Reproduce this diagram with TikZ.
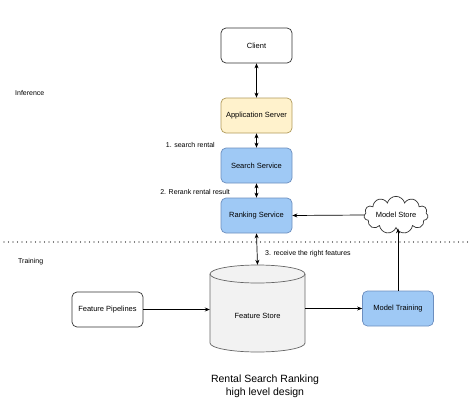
\documentclass[tikz,border=0pt]{standalone}
\usepackage{fontspec}
\setmainfont{Liberation Sans}
\usetikzlibrary{arrows.meta,shapes.symbols}
\definecolor{ylwfill}{HTML}{FFF2CC}
\definecolor{ylwdraw}{HTML}{B09A5A}
\definecolor{bluefill}{HTML}{9FC9F5}
\definecolor{bluedraw}{HTML}{6C8EBF}
\definecolor{cylfill}{HTML}{F2F2F2}
\definecolor{cyldraw}{HTML}{666666}
\definecolor{boxdraw}{HTML}{333333}
\begin{document}
\begin{tikzpicture}[x=1pt,y=-1pt,
  box/.style={draw=boxdraw,line width=0.7pt,rounded corners=5pt,minimum width=71pt,minimum height=35pt,inner sep=0pt,font=\fontsize{7.5}{9}\selectfont},
  ybox/.style={box,fill=ylwfill,draw=ylwdraw},
  bbox/.style={box,fill=bluefill,draw=bluedraw},
  lbl/.style={font=\fontsize{7}{8.5}\selectfont,inner sep=0pt},
  conn/.style={line width=0.7pt,-{Stealth[length=5pt,width=4pt]}},
  bconn/.style={line width=0.7pt,{Stealth[length=5pt,width=4pt]}-{Stealth[length=5pt,width=4pt]}}
]
\useasboundingbox (0,0) rectangle (474,412);
\node[box] (client) at (256.5,45.5) {Client};
\node[ybox] (app) at (256.5,115.5) {Application Server};
\node[bbox] (search) at (256.5,165.5) {Search Service};
\node[bbox] (rank) at (256.5,215.5) {Ranking Service};
\node[cloud,draw=boxdraw,fill=white,line width=0.7pt,cloud puffs=11,aspect=2.2,minimum width=64pt,minimum height=33pt,inner sep=0pt,font=\fontsize{7.5}{9}\selectfont] (mstore) at (396,215) {Model Store};
\node[box] (pipe) at (107.5,309.5) {Feature Pipelines};
\node[bbox] (train) at (398,308.5) {Model Training};
% cylinder
\node[minimum width=95pt,minimum height=87pt,inner sep=0pt] (fs) at (257.5,308.5) {};
\draw[draw=cyldraw,fill=cylfill,line width=0.7pt] (210,274) -- (210,343) arc[start angle=180,end angle=360,x radius=47.5pt,y radius=9pt] -- (305,274) arc[start angle=0,end angle=180,x radius=47.5pt,y radius=9pt] -- cycle;
\draw[draw=cyldraw,line width=0.7pt] (210,274) arc[start angle=180,end angle=360,x radius=47.5pt,y radius=9pt];
\node[font=\fontsize{7.5}{9}\selectfont,inner sep=0pt] (fslabel) at (257.5,316) {Feature Store};
% dotted separator
\coordinate (sepL) at (4,242);
\coordinate (sepR) at (472,242);
\draw[line width=1.1pt,line cap=round,dash pattern=on 0pt off 4.5pt] (sepL) -- (sepR);
% connectors
\draw[bconn] (client.south) -- (app.north);
\draw[bconn] (app.south) -- (search.north);
\draw[bconn] (search.south) -- (rank.north);
\draw[bconn] (rank.south) -- (fs.north);
\draw[conn] (mstore.west) -- (rank.east);
\draw[conn] (train.north) -- (train.north |- mstore.south);
\draw[conn] (pipe.east) -- (fs.west |- pipe.east);
\draw[conn] (fs.east |- train.west) -- (train.west);
% labels
\node[lbl,anchor=east] (l1) at (215,145) {1. search rental};
\node[lbl,anchor=east] (l2) at (230,192) {2. Rerank rental result};
\node[lbl,anchor=west] (l3) at (265,254) {3. receive the right features};
\node[lbl,anchor=west] (inf) at (15,93) {Inference};
\node[lbl,anchor=west] (trn) at (18,262) {Training};
\node[font=\fontsize{10.5}{13}\selectfont,align=center,inner sep=0pt] (title) at (265,386) {Rental Search Ranking\\high level design};
\end{tikzpicture}
\end{document}
